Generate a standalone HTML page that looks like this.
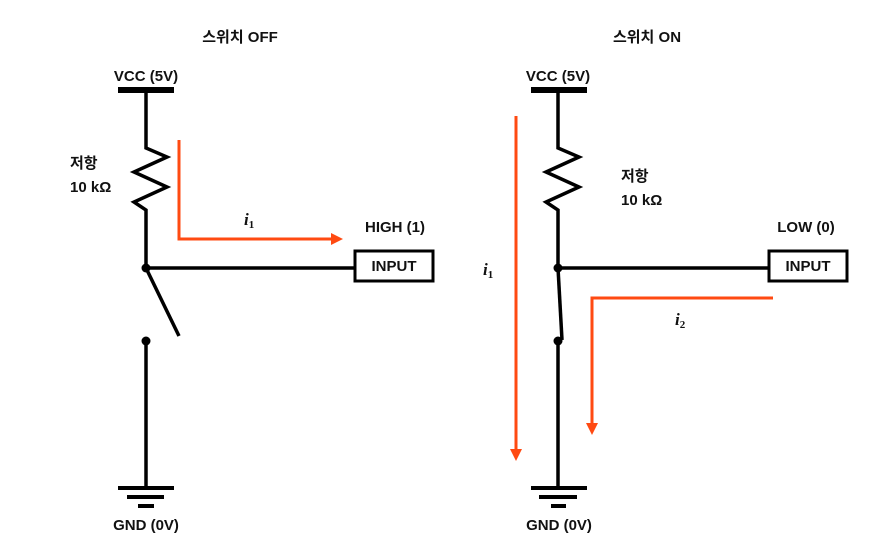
<!DOCTYPE html>
<html><head><meta charset="utf-8"><style>
html,body{margin:0;padding:0;background:#fff}
svg text{font-family:"Liberation Sans","Noto Sans CJK KR",sans-serif;font-weight:bold;fill:#111}
</style></head><body>
<svg width="879" height="544" viewBox="0 0 879 544" xmlns="http://www.w3.org/2000/svg">
<defs>
<marker id="ah" markerWidth="4" markerHeight="4" refX="0" refY="2" orient="auto" markerUnits="strokeWidth">
<path d="M0,0 L4,2 L0,4 z" fill="#ff4a12"/></marker>
</defs>
<g font-size="15">
<text x="240" y="42" text-anchor="middle">스위치 OFF</text>
<text x="647" y="42" text-anchor="middle">스위치 ON</text>
<text x="146" y="81" text-anchor="middle">VCC (5V)</text>
<text x="558" y="81" text-anchor="middle">VCC (5V)</text>
<text x="70" y="168">저항</text>
<text x="70" y="192">10 kΩ</text>
<text x="621" y="181">저항</text>
<text x="621" y="205">10 kΩ</text>
<text x="395" y="232" text-anchor="middle">HIGH (1)</text>
<text x="806" y="232" text-anchor="middle">LOW (0)</text>
<text x="146" y="530" text-anchor="middle">GND (0V)</text>
<text x="559" y="530" text-anchor="middle">GND (0V)</text>
<text x="394" y="271" text-anchor="middle">INPUT</text>
<text x="808" y="271" text-anchor="middle">INPUT</text>
</g>
<g font-size="17">
<text x="244" y="225" style="font-family:'Liberation Serif',serif;font-weight:bold;font-style:italic">i<tspan font-size="11" dy="3" font-style="normal">1</tspan></text>
<text x="483" y="275" style="font-family:'Liberation Serif',serif;font-weight:bold;font-style:italic">i<tspan font-size="11" dy="3" font-style="normal">1</tspan></text>
<text x="675" y="325" style="font-family:'Liberation Serif',serif;font-weight:bold;font-style:italic">i<tspan font-size="11" dy="3" font-style="normal">2</tspan></text>
</g>
<g stroke="#000" fill="none" stroke-width="3.5">
<line x1="118" y1="90" x2="174" y2="90" stroke-width="6"/>
<polyline points="146,90 146,148 167,157 134,172 167,187 134,202 146,210 146,268 355,268"/>
<line x1="146" y1="268" x2="179" y2="336"/>
<line x1="146" y1="341" x2="146" y2="487"/>
<line x1="118" y1="488" x2="174" y2="488" stroke-width="4"/>
<line x1="127" y1="497" x2="164" y2="497" stroke-width="4"/>
<line x1="138" y1="506" x2="154" y2="506" stroke-width="4"/>
<rect x="355" y="251" width="78" height="30" stroke-width="3"/>
<line x1="531" y1="90" x2="587" y2="90" stroke-width="6"/>
<polyline points="558,90 558,148 579,157 546,172 579,187 546,202 558,210 558,268 769,268"/>
<line x1="558" y1="268" x2="562" y2="340"/>
<line x1="558" y1="341" x2="558" y2="487"/>
<line x1="531" y1="488" x2="587" y2="488" stroke-width="4"/>
<line x1="539" y1="497" x2="577" y2="497" stroke-width="4"/>
<line x1="551" y1="506" x2="566" y2="506" stroke-width="4"/>
<rect x="769" y="251" width="78" height="30" stroke-width="3"/>
</g>
<g fill="#000">
<circle cx="146" cy="268" r="4.5"/><circle cx="146" cy="341" r="4.5"/>
<circle cx="558" cy="268" r="4.5"/><circle cx="558" cy="341" r="4.5"/>
</g>
<g stroke="#ff4a12" stroke-width="3" fill="none">
<polyline points="179,140 179,239 331,239" marker-end="url(#ah)"/>
<line x1="516" y1="116" x2="516" y2="449" marker-end="url(#ah)"/>
<polyline points="773,298 592,298 592,423" marker-end="url(#ah)"/>
</g>
</svg>
</body></html>
